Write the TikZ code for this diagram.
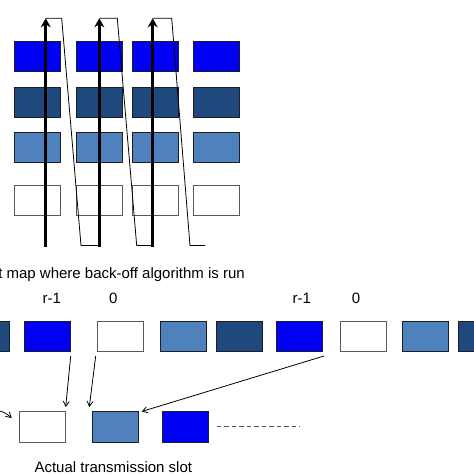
\documentclass[tikz,border=0pt]{standalone}
\usepackage{fontspec}
\setmainfont{Liberation Sans}
\usetikzlibrary{arrows.meta,calc}
\definecolor{cblue}{RGB}{0,0,245}
\definecolor{cdark}{RGB}{31,73,125}
\definecolor{clight}{RGB}{79,129,189}
\definecolor{cedge}{RGB}{30,30,40}
\definecolor{cgray}{RGB}{90,90,90}
\tikzset{
  slot/.style={draw=cedge, line width=0.9pt, minimum width=46pt, minimum height=30.5pt, inner sep=0pt},
  sblue/.style={slot, fill=cblue},
  sdark/.style={slot, fill=cdark},
  slight/.style={slot, fill=clight},
  swhite/.style={slot, draw=cgray, fill=white},
  lab/.style={font=\fontsize{15}{18}\selectfont, inner sep=0pt},
  scan/.style={line width=2.6pt, -{Stealth[length=9pt,width=10pt]}},
  zig/.style={line width=0.8pt},
  conn/.style={line width=0.8pt, -{Straight Barb[length=5pt,width=6pt]}}
}
\begin{document}
\begin{tikzpicture}[x=1pt,y=-1pt]
\useasboundingbox (0,0) rectangle (474,474);
\clip (0,0) rectangle (474,474);
% top grid
\foreach \c/\x in {1/37.3,2/99.8,3/155.8,4/216.7}{
  \node[sblue]  (t1\c) at (\x,56.3) {};
  \node[sdark]  (t2\c) at (\x,102.2) {};
  \node[slight] (t3\c) at (\x,147.5) {};
  \node[swhite] (t4\c) at (\x,200.3) {};
}
% scan arrows and zigzag
\coordinate (a1b) at (45.7,246.7); \coordinate (a1t) at (45.7,18.3);
\coordinate (a2b) at (99.3,246.7); \coordinate (a2t) at (99.3,18.3);
\coordinate (a3b) at (152.7,246.7); \coordinate (a3t) at (152.7,18.3);
\coordinate (z1a) at (61.7,18.3); \coordinate (z1b) at (81,245.5);
\coordinate (z2a) at (117.3,18.3); \coordinate (z2b) at (136.7,245.5);
\coordinate (z3a) at (171.7,18.3); \coordinate (z3b) at (190,245.5);
\coordinate (z3e) at (205,245.5);
\draw[zig] (a1t) -- (z1a) -- (z1b) -- (z1b -| a2b);
\draw[zig] (a2t) -- (z2a) -- (z2b) -- (z2b -| a3b);
\draw[zig] (a3t) -- (z3a) -- (z3b) -- (z3e);
\draw[scan] (a1b) -- (a1t);
\draw[scan] (a2b) -- (a2t);
\draw[scan] (a3b) -- (a3t);
% caption of map
\node[lab, anchor=base east] (maplabel) at (245,278) {Slot map where back-off algorithm is run};
% labels
\node[lab] (l1) at (51.7,298) {r-1};
\node[lab] (l2) at (113.3,298) {0};
\node[lab] (l3) at (301.7,298) {r-1};
\node[lab] (l4) at (356,298) {0};
% middle row
\node[sdark]  (m0) at (-13.7,336.2) {};
\node[sblue]  (m1) at (47,336.2) {};
\node[swhite] (m2) at (120.8,336.2) {};
\node[slight] (m3) at (183,336.2) {};
\node[sdark]  (m4) at (239.2,336.2) {};
\node[sblue]  (m5) at (299.7,336.2) {};
\node[swhite] (m6) at (363.3,336.2) {};
\node[slight] (m7) at (425.8,336.2) {};
\node[sdark]  (m8) at (481.3,336.2) {};
% bottom row
\node[swhite] (b1) at (42.5,427) {};
\node[slight] (b2) at (115,427) {};
\node[sblue]  (b3) at (185.3,427) {};
\coordinate (d1) at (216.7,426);
\coordinate (d2) at (300,426);
\draw[cgray, line width=0.9pt, dash pattern=on 4.5pt off 3pt] (d1) -- (d2);
% connectors
\coordinate (c1s) at (70.7,356); \coordinate (c1e) at (65.7,407);
\coordinate (c2s) at (95.7,356); \coordinate (c2e) at (89.3,407);
\coordinate (c3s) at (324,356);  \coordinate (c3e) at (141.7,411.5);
\coordinate (c0s) at (-4,410);   \coordinate (c0e) at (11.7,418);
\draw[conn] (c1s) -- (c1e);
\draw[conn] (c2s) -- (c2e);
\draw[conn] (c3s) -- (c3e);
\draw[conn] (c0s) to[bend left=15] (c0e);
\node[lab] (cap) at (113.3,467) {Actual transmission slot};
\end{tikzpicture}
\end{document}
